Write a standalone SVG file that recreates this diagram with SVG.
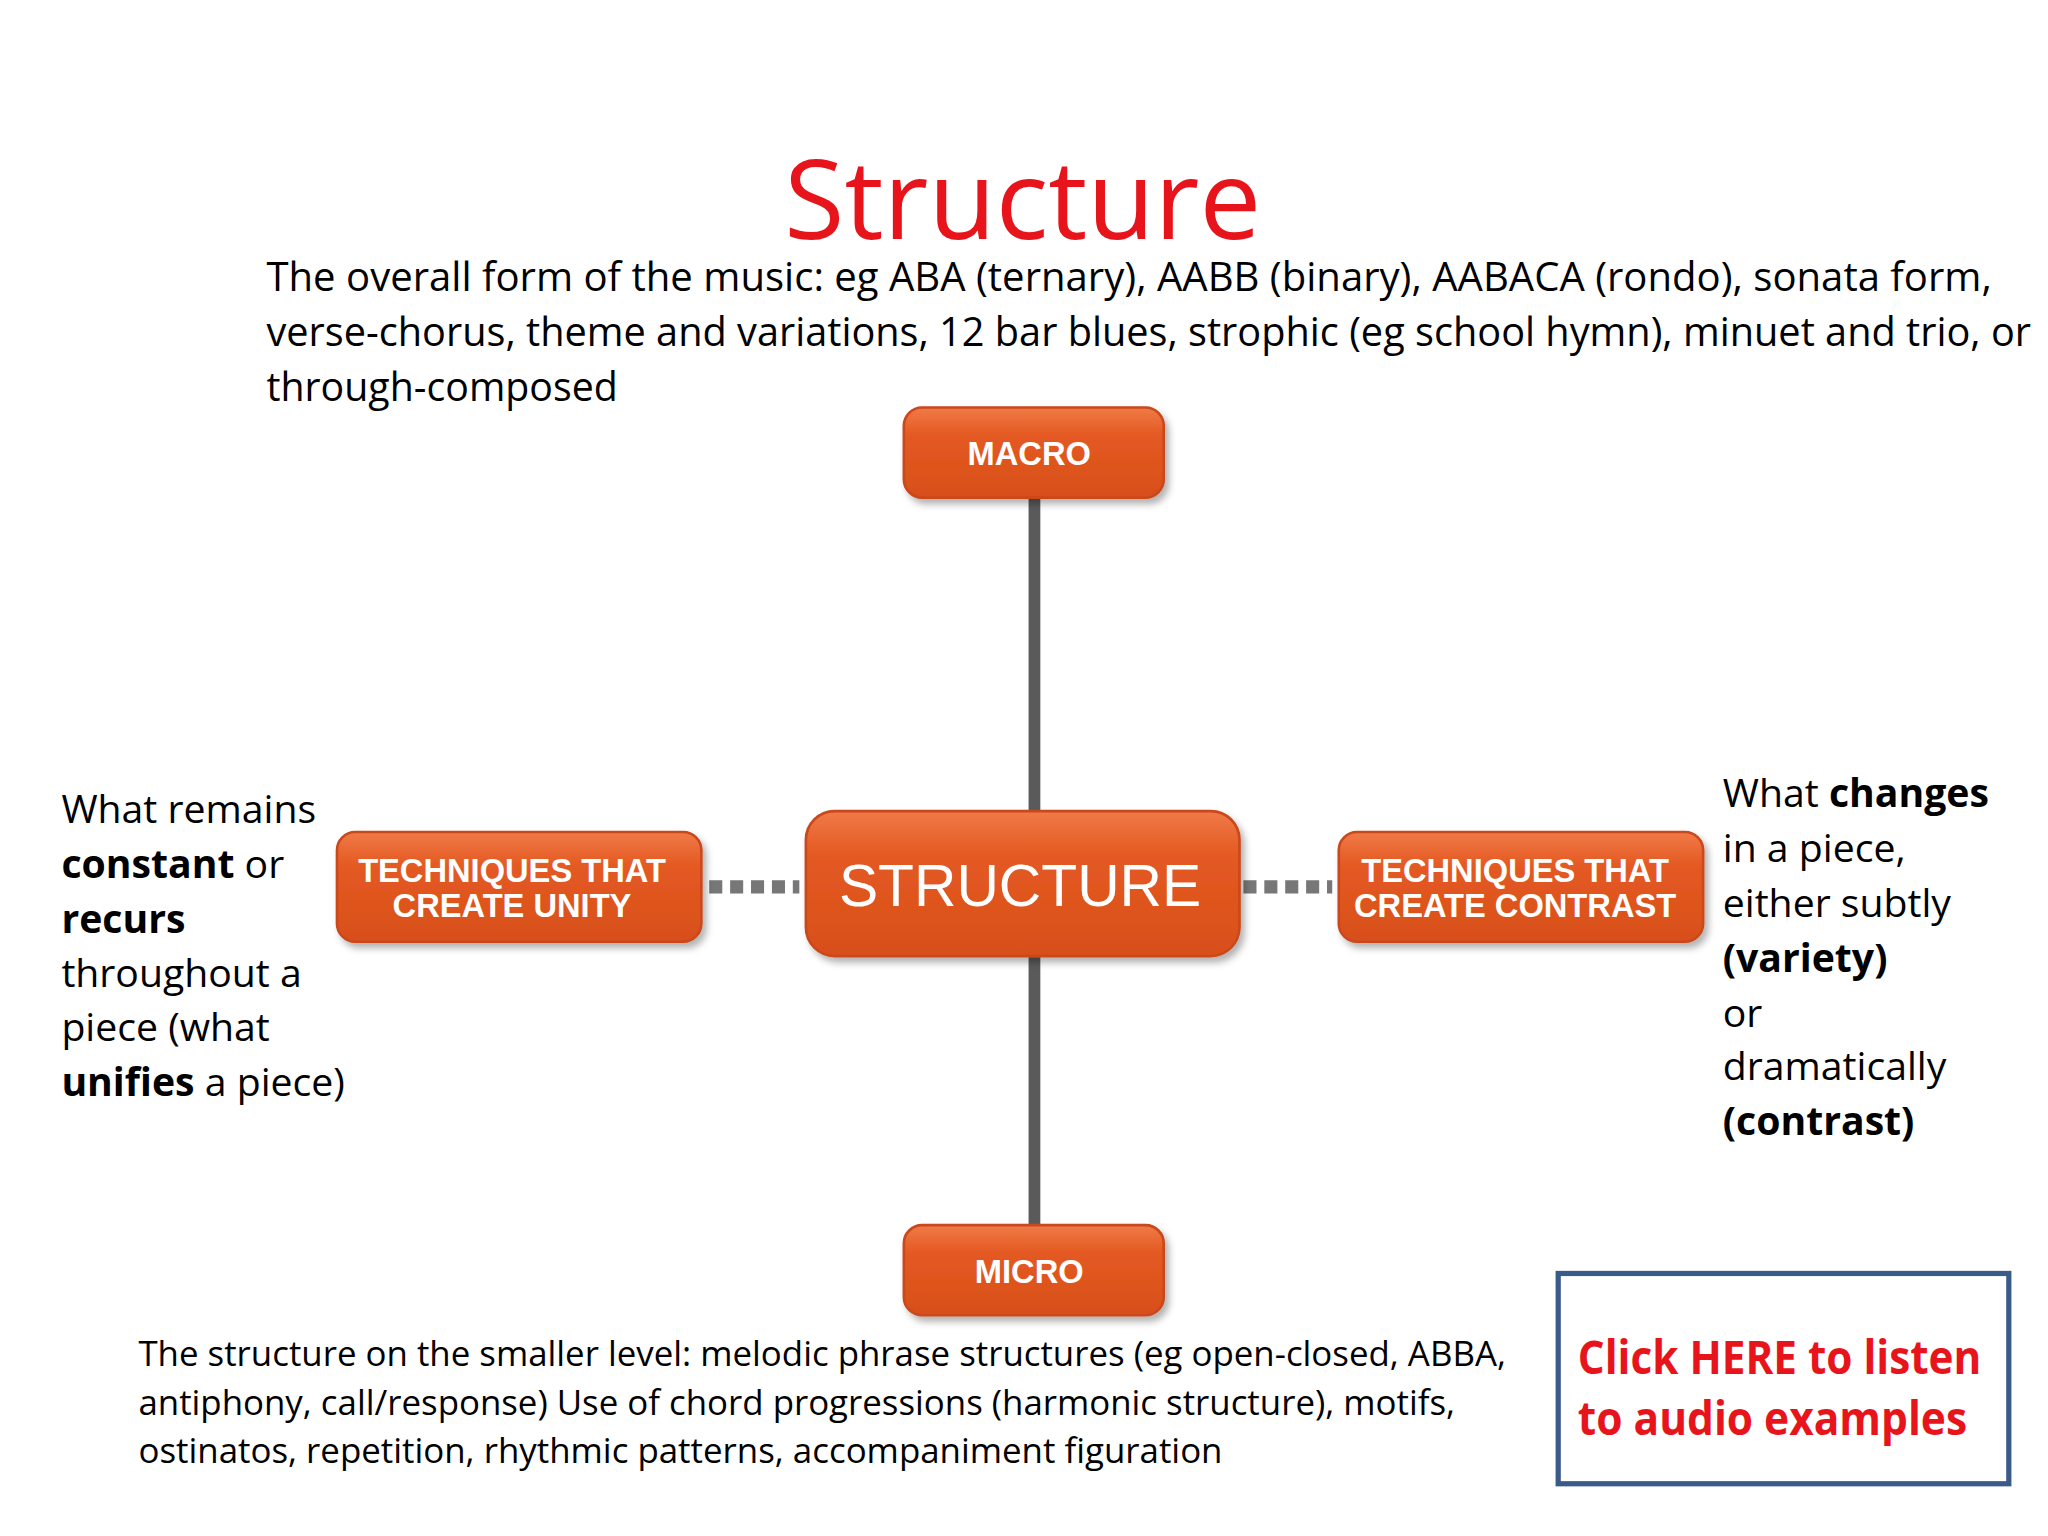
<svg xmlns="http://www.w3.org/2000/svg" width="2048" height="1536" viewBox="0 0 2048 1536">
<style>
.t{font-family:"Open Sans","Noto Sans","Liberation Sans",sans-serif;fill:#000}
.b{font-weight:bold}
.bx{fill:url(#og);stroke:#c9481a;stroke-width:2;filter:url(#sh)}
.bt{font-family:"Liberation Sans",Arial,sans-serif;font-weight:bold;fill:#fff;text-anchor:middle}
</style>
<defs>
<linearGradient id="og" x1="0" y1="0" x2="0" y2="1">
<stop offset="0" stop-color="#f07a48"/><stop offset="0.3" stop-color="#e45a22"/><stop offset="1" stop-color="#d84f1a"/>
</linearGradient>
<filter id="sh" x="-10%" y="-10%" width="130%" height="140%"><feDropShadow dx="3" dy="4" stdDeviation="3" flood-color="#000" flood-opacity="0.3"/></filter>
</defs>
<rect width="2048" height="1536" fill="#fff"/>
<g transform="scale(1.30612)">
<text x="783" y="183" text-anchor="middle" font-family="'Open Sans','Noto Sans',sans-serif" font-size="84" fill="#e8141c">Structure</text>
<g class="t" font-size="31">
<text x="204" y="223" textLength="1321" lengthAdjust="spacingAndGlyphs">The overall form of the music: eg ABA (ternary), AABB (binary), AABACA (rondo), sonata form,</text>
<text x="204" y="265" textLength="1351" lengthAdjust="spacingAndGlyphs">verse-chorus, theme and variations, 12 bar blues, strophic (eg school hymn), minuet and trio, or</text>
<text x="204" y="307" textLength="269" lengthAdjust="spacingAndGlyphs">through-composed</text>
</g>
<g id="connectors">
<line x1="792" y1="381" x2="792" y2="622" stroke="#5a5a5a" stroke-width="9"/>
<line x1="792" y1="732" x2="792" y2="938" stroke="#5a5a5a" stroke-width="9"/>
<line x1="543" y1="679" x2="612" y2="679" stroke="#777" stroke-width="10" stroke-dasharray="10 6"/>
<line x1="952" y1="679" x2="1020" y2="679" stroke="#777" stroke-width="10" stroke-dasharray="10 6"/>
</g>
<g id="macro"><rect class="bx" x="692" y="312" width="199" height="69" rx="14"/><text class="bt" x="788" y="356" font-size="25">MACRO</text></g>
<g id="micro"><rect class="bx" x="692" y="938" width="199" height="69" rx="14"/><text class="bt" x="788" y="982" font-size="25">MICRO</text></g>
<g id="structure"><rect class="bx" x="617" y="621" width="332" height="111" rx="22"/><text x="781" y="694" text-anchor="middle" font-family="'Liberation Sans',Arial,sans-serif" font-size="45" fill="#fff">STRUCTURE</text></g>
<g id="unity"><rect class="bx" x="258" y="637" width="279" height="84" rx="14"/><text class="bt" x="392" y="675" font-size="25">TECHNIQUES THAT</text><text class="bt" x="392" y="702" font-size="25">CREATE UNITY</text></g>
<g id="contrast"><rect class="bx" x="1025" y="637" width="279" height="84" rx="14"/><text class="bt" x="1160" y="675" font-size="25">TECHNIQUES THAT</text><text class="bt" x="1160" y="702" font-size="25">CREATE CONTRAST</text></g>
<g class="t" font-size="30">
<text x="47" y="630">What remains</text>
<text x="47" y="672"><tspan class="b">constant</tspan> or</text>
<text x="47" y="714" class="b">recurs</text>
<text x="47" y="756">throughout a</text>
<text x="47" y="797">piece (what</text>
<text x="47" y="839"><tspan class="b">unifies</tspan>  a piece)</text>
<text x="1319" y="618">What <tspan class="b">changes</tspan></text>
<text x="1319" y="660">in a piece,</text>
<text x="1319" y="702">either subtly</text>
<text x="1319" y="744" class="b">(variety)</text>
<text x="1319" y="786">or</text>
<text x="1319" y="827">dramatically</text>
<text x="1319" y="869" class="b">(contrast)</text>
</g>
<g class="t" font-size="27">
<text x="106" y="1046" textLength="1047" lengthAdjust="spacingAndGlyphs">The structure on the smaller level: melodic phrase structures (eg open-closed, ABBA,</text>
<text x="106" y="1083" textLength="1008" lengthAdjust="spacingAndGlyphs">antiphony, call/response) Use of chord progressions (harmonic structure), motifs,</text>
<text x="106" y="1120" textLength="830" lengthAdjust="spacingAndGlyphs">ostinatos, repetition, rhythmic patterns, accompaniment figuration</text>
</g>
<g id="link">
<rect x="1193" y="975" width="345" height="161" fill="#fff" stroke="#3a5a8a" stroke-width="4"/>
<text x="1208" y="1052" font-family="'Open Sans','Noto Sans',sans-serif" font-weight="bold" font-size="35" fill="#e8141c" textLength="309" lengthAdjust="spacingAndGlyphs">Click HERE to listen</text>
<text x="1208" y="1099" font-family="'Open Sans','Noto Sans',sans-serif" font-weight="bold" font-size="35" fill="#e8141c" textLength="298" lengthAdjust="spacingAndGlyphs">to audio examples</text>
</g>
</g>
</svg>
